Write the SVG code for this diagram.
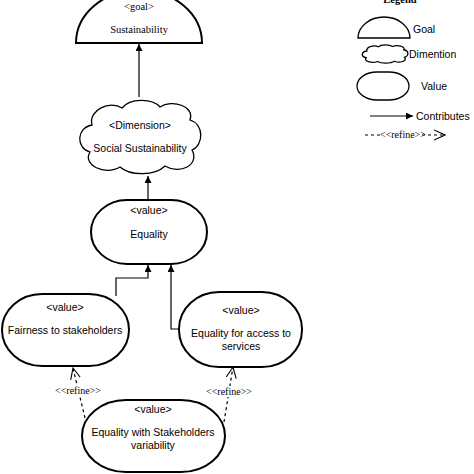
<svg xmlns="http://www.w3.org/2000/svg" xmlns:xlink="http://www.w3.org/1999/xlink" width="474" height="474" viewBox="0 0 474 474">
<style>
.shape{fill:#fff;stroke:#000;stroke-width:2}
.thin{fill:#fff;stroke:#000;stroke-width:1.3}
.sans{font-family:"Liberation Sans",Arial,sans-serif;font-size:10.5px;fill:#000}
.serif{font-family:"Liberation Serif","Times New Roman",serif;font-size:10.5px;fill:#000}
.sm{font-size:10px}
.conn{fill:none;stroke:#000;stroke-width:1.2}
.dash{fill:none;stroke:#000;stroke-width:1.2;stroke-dasharray:3 3}
</style>
<defs>
<marker id="arr" viewBox="0 0 10 10" refX="10" refY="5" markerWidth="7" markerHeight="7" orient="auto" markerUnits="userSpaceOnUse">
<path d="M0,0 L10,5 L0,10 Z" fill="#000"/>
</marker>
<marker id="open" viewBox="0 0 12 12" refX="11" refY="6" markerWidth="12" markerHeight="12" orient="auto" markerUnits="userSpaceOnUse">
<path d="M0,1 L11,6 L0,11" fill="none" stroke="#000" stroke-width="1.1"/>
</marker>
</defs>

<g id="connectors">
<line class="conn" x1="139" y1="97" x2="139" y2="44" marker-end="url(#arr)"/>
<line class="conn" x1="148" y1="199" x2="148" y2="176" marker-end="url(#arr)"/>
<polyline class="conn" points="116,296 116,278 148,278 148,265" marker-end="url(#arr)"/>
<polyline class="conn" points="180,329 171,329 171,265" marker-end="url(#arr)"/>
<line class="dash" x1="85" y1="418" x2="73" y2="368" marker-end="url(#open)"/>
<line class="dash" x1="224" y1="422" x2="233" y2="367" marker-end="url(#open)"/>
<rect x="52" y="385" width="52" height="11" fill="#fff"/>
<rect x="203" y="386" width="52" height="11" fill="#fff"/>
<text class="serif sm" x="78" y="394" text-anchor="middle">&lt;&lt;refine&gt;&gt;</text>
<text class="serif sm" x="229" y="395" text-anchor="middle">&lt;&lt;refine&gt;&gt;</text>
</g>

<g id="goal-sustainability">
<path class="shape" d="M76,43 A63,53 0 0 1 202,43 Z"/>
<text class="serif" x="139" y="10" text-anchor="middle">&lt;goal&gt;</text>
<text class="serif" x="139" y="33" text-anchor="middle">Sustainability</text>
</g>

<g id="dimension-social">
<path class="thin" d="M92,125 C88,110 110,100 122,108 C130,98 152,98 160,107 C172,99 195,106 190,120 C204,124 204,145 192,150 C200,165 180,175 165,166 C155,176 130,176 120,167 C105,176 82,165 90,152 C76,148 76,128 92,125 Z"/>
<text class="sans" x="140" y="129" text-anchor="middle">&lt;Dimension&gt;</text>
<text class="sans" x="140" y="152" text-anchor="middle">Social Sustainability</text>
</g>

<g id="value-equality">
<rect class="shape" x="91" y="200" width="116" height="64" rx="36" ry="32"/>
<text class="sans" x="149" y="214" text-anchor="middle">&lt;value&gt;</text>
<text class="sans" x="149" y="238" text-anchor="middle">Equality</text>
</g>

<g id="value-fairness">
<rect class="shape" x="2" y="294" width="127" height="72" rx="40" ry="36"/>
<text class="sans" x="65" y="311" text-anchor="middle">&lt;value&gt;</text>
<text class="sans" x="65" y="334" text-anchor="middle">Fairness to stakeholders</text>
</g>

<g id="value-access">
<rect class="shape" x="179" y="292" width="123" height="75" rx="40" ry="37"/>
<text class="sans" x="241" y="314" text-anchor="middle">&lt;value&gt;</text>
<text class="sans" x="241" y="337" text-anchor="middle">Equality for access to</text>
<text class="sans" x="241" y="350" text-anchor="middle">services</text>
</g>

<g id="value-variability">
<rect class="shape" x="82" y="400" width="143" height="72" rx="44" ry="36"/>
<text class="sans" x="153" y="413" text-anchor="middle">&lt;value&gt;</text>
<text class="sans" x="153" y="436" text-anchor="middle">Equality with Stakeholders</text>
<text class="sans" x="153" y="449" text-anchor="middle">variability</text>
</g>

<g id="legend">
<text class="serif" x="400" y="3" text-anchor="middle" font-weight="bold" font-size="11px">Legend</text>
<path class="thin" d="M358,38 A26,21 0 0 1 410,38 Z"/>
<text class="sans" x="413" y="33">Goal</text>
<path class="thin" d="M366.9,51 C365.4,47.25 373.7,44.75 378.2,46.75 C381.2,44.25 389.5,44.25 392.5,46.5 C397.1,44.5 405.7,46.25 403.8,49.75 C409.1,50.75 409.1,56 404.6,57.25 C407.6,61 400.1,63.5 394.4,61.25 C390.7,63.75 381.2,63.75 377.5,61.5 C371.8,63.75 363.1,61 366.1,57.75 C360.9,56.75 360.9,51.75 366.9,51 Z"/>
<text class="sans" x="409" y="58">Dimention</text>
<rect class="thin" x="357" y="72" width="52" height="28" rx="20" ry="14"/>
<text class="sans" x="421" y="90">Value</text>
<line class="conn" x1="370" y1="116" x2="413" y2="116" marker-end="url(#arr)"/>
<text class="sans" x="416" y="120">Contributes</text>
<line class="dash" x1="365" y1="135" x2="380" y2="135"/>
<text class="serif sm" x="380" y="138">&lt;&lt;refine&gt;&gt;</text>
<line class="dash" x1="422" y1="135" x2="445" y2="135" marker-end="url(#open)"/>
</g>
</svg>
